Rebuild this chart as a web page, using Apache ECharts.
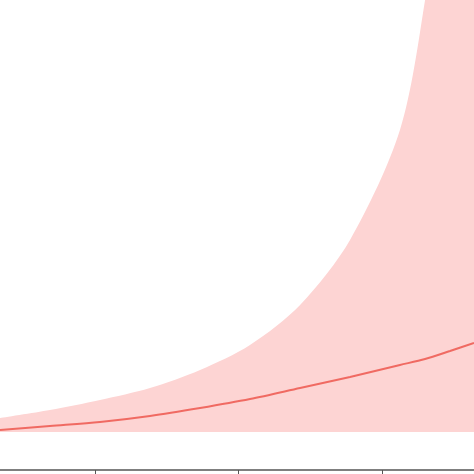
<!DOCTYPE html>
<html><head><meta charset="utf-8">
<script src="https://cdn.jsdelivr.net/npm/echarts@6/dist/echarts.min.js"></script>
<style>html,body{margin:0;padding:0;background:#fff}#c{width:474px;height:474px}</style>
</head><body><div id="c"></div>
<script>
// x positions (axis units) and values
var xs = [-0.662, -0.314, 0.035, 0.383, 0.732, 1.080, 1.429, 1.777, 2.125, 2.300, 2.474, 2.641];
var mean = [40, 44, 48, 54, 62, 71, 82, 93, 105, 111, 119, 127];
var lower = [38, 38, 38, 38, 38, 38, 38, 38, 38, 38, 38, 38];
var upper = [52, 60, 70, 82, 100, 125, 165, 230, 340, 470, 650, 850];
var tickValues = [0, 1, 2];

function pairs(a){ return xs.map(function(x, i){ return [x, a[i]]; }); }

var chart = echarts.init(document.getElementById('c'));
chart.setOption({
    animation: false,
    grid: {left: 0, right: 0, top: 0, bottom: 4},
    xAxis: {
        type: 'value', min: -0.662, max: 2.641, z: 10,
        axisLine: {lineStyle: {color: '#555', width: 1.5}},
        axisTick: {show: true, length: 4, customValues: tickValues, lineStyle: {color: '#555'}},
        axisLabel: {show: false},
        splitLine: {show: false}
    },
    yAxis: {
        type: 'value', min: 0, max: 470,
        axisLine: {show: false}, axisTick: {show: false},
        axisLabel: {show: false}, splitLine: {show: false}
    },
    series: [
        // upper edge of band filled pink, lower edge covered with white
        {type: 'line', data: pairs(upper), symbol: 'none', smooth: 0.3, z: 1,
         lineStyle: {opacity: 0}, areaStyle: {color: '#fdd4d3', opacity: 1}, silent: true},
        {type: 'line', data: pairs(lower), symbol: 'none', z: 2,
         lineStyle: {opacity: 0}, areaStyle: {color: '#ffffff', opacity: 1}, silent: true},
        {type: 'line', data: pairs(mean), symbol: 'none', smooth: 0.3, z: 3,
         lineStyle: {color: '#f06a62', width: 2}}
    ]
});
</script></body></html>
